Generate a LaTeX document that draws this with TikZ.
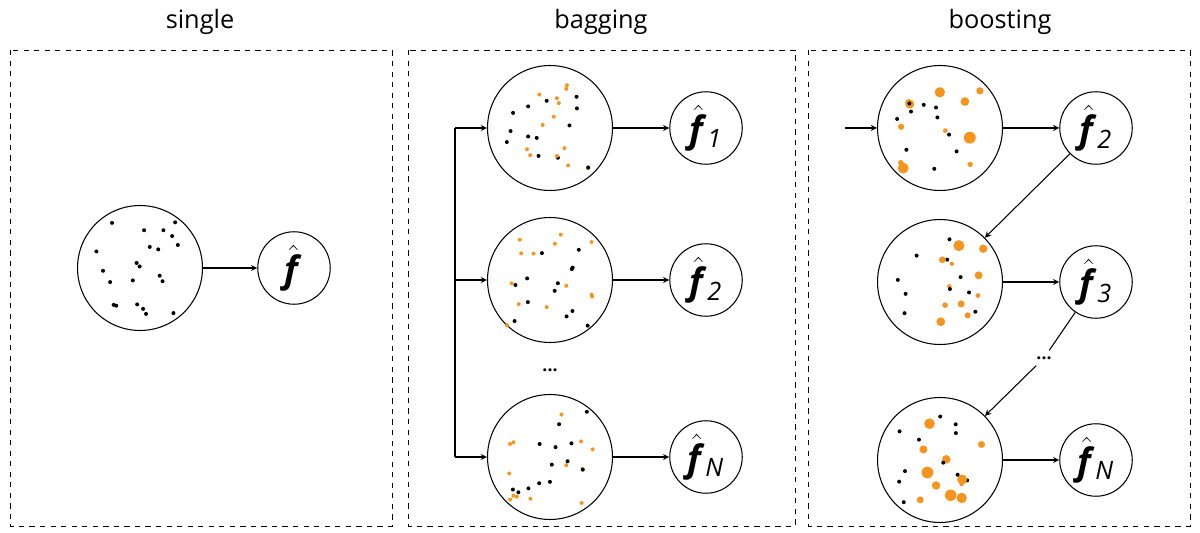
\documentclass[tikz,border=0pt]{standalone}
\usepackage{fontspec}
\setmainfont{Open Sans}
\usetikzlibrary{positioning, calc}
\definecolor{dotorange}{HTML}{F7941D}
\newcommand{\fhat}[1]{$\hat{\mbox{\textbf{\textit{f}}}}$\textsubscript{\itshape\Large #1}}
\begin{document}
\begin{tikzpicture}[x=0.02cm, y=-0.02cm,
box/.style={draw, dashed, thin},
title/.style={font=\Large},
pool/.style={circle, draw, semithick, minimum size=2.5cm, inner sep=0pt},
model/.style={circle, draw, semithick, minimum size=1.45cm, inner sep=0pt, font=\huge},
path/.style={->,>=stealth,semithick},
]
\useasboundingbox (0,0) rectangle (1200,533);

% Boxes and titles
\draw [box] (10,50) rectangle (392,526);
\draw [box] (408,50) rectangle (795,526);
\draw [box] (808,50) rectangle (1190,526);
\node [title] (t_single) at (200,22) {single};
\node [title] (t_bagging) at (601,22) {bagging};
\node [title] (t_boosting) at (1000,22) {boosting};

% Nodes
\node [pool] (s_pool) at (140,268) {};
\node [model] (s_f) at (294,268) {\fhat{}};

\node [pool] (b_pool1) at (550,128) {};
\node [pool] (b_pool2) at (550,280) {};
\node [pool] (b_poolN) at (550,457) {};
\node [model] (b_f1) at (706,128) {\fhat{1}};
\node [model] (b_f2) at (706,280) {\fhat{2}};
\node [model] (b_fN) at (706,457) {\fhat{N}};
\node (b_dots) at (550,370) {\textbf{...}};

\node [pool] (o_pool1) at (940,128) {};
\node [pool] (o_pool2) at (940,282) {};
\node [pool] (o_poolN) at (940,460) {};
\node [model] (o_f2) at (1096,128) {\fhat{2}};
\node [model] (o_f3) at (1096,282) {\fhat{3}};
\node [model] (o_fN) at (1096,460) {\fhat{N}};
\node (o_dots) at (1044,358) {\textbf{...}};
\coordinate (o_in) at (845,128);
\coordinate (b_top) at (455,128);
\coordinate (b_bot) at (455,457);
\coordinate (b_mid) at (455,280);

% Dots
\pgfmathsetseed{7}
\foreach \p in {s_pool}
  \foreach \i in {1,...,22}
    \fill ($(\p)+(rand*46,rand*46)$) circle (2);
\foreach \p in {b_pool1,b_pool2,b_poolN}
  \foreach \i in {1,...,13} {
    \fill ($(\p)+(rand*46,rand*46)$) circle (2);
    \fill [dotorange] ($(\p)+(rand*46,rand*46)$) circle (2);
  }
\foreach \p in {o_pool1,o_pool2,o_poolN}
  \foreach \i in {1,...,11} {
    \fill ($(\p)+(rand*45,rand*45)$) circle (2);
    \pgfmathsetmacro{\rr}{2+4*rnd}
    \fill [dotorange] ($(\p)+(rand*45,rand*45)$) circle (\rr);
  }

% Paths
\draw [path] (s_pool) -- (s_f);
\draw [path] (b_pool1) -- (b_f1);
\draw [path] (b_pool2) -- (b_f2);
\draw [path] (b_poolN) -- (b_fN);
\draw [semithick] (b_top) -- (b_bot);
\draw [path] (b_top) -- (b_pool1);
\draw [path] (b_mid) -- (b_pool2);
\draw [path] (b_bot) -- (b_poolN);

\draw [path] (o_in) -- (o_pool1);
\draw [path] (o_pool1) -- (o_f2);
\draw [path] (o_pool2) -- (o_f3);
\draw [path] (o_poolN) -- (o_fN);
\draw [path] (o_f2) -- (o_pool2);
\draw [semithick] (o_f3) -- (o_dots);
\draw [path] (o_dots) -- (o_poolN);
\end{tikzpicture}
\end{document}
